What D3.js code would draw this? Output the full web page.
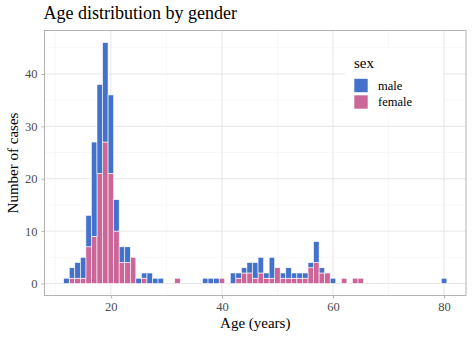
<!DOCTYPE html>
<html><head><meta charset="utf-8">
<script src="https://cdn.jsdelivr.net/npm/d3@7"></script>
<style>body{margin:0;background:#fff}svg{display:block}</style>
</head><body>
<svg id="c" width="474" height="338"></svg>
<script>
const ages   = [12,13,14,15,16,17,18,19,20,21,22,23,24,25,26,27,28,29,32,37,38,39,40,42,43,44,45,46,47,48,49,50,51,52,53,54,55,56,57,58,59,60,62,64,65,80];
const male   = [1, 2, 3, 4, 6, 18,17,19,15,6, 3, 3, 0, 1, 1, 2, 1, 1, 0, 1, 1, 1, 0, 2, 1, 1, 2, 3, 3, 1, 4, 0, 1, 2, 1, 1, 1, 1, 4, 1, 0, 1, 0, 0, 0, 1];
const female = [0, 1, 1, 1, 7, 9, 21,27,21,10,4, 4, 5, 0, 1, 0, 0, 0, 1, 0, 0, 0, 1, 0, 1, 2, 2, 1, 2, 1, 1, 3, 1, 1, 1, 1, 1, 3, 4, 2, 2, 0, 1, 1, 1, 0];
const sexes = ["male","female"];
const colors = ["#4472CA","#CC6699"];
const xTicks = [20,40,60,80];
const yTicks = [0,10,20,30,40];

const svg = d3.select("#c");
const L=44.5, R=466, T=30.5, B=295.5;
const x = d3.scaleLinear().domain([8.05,83.95]).range([L,R]);
const y = d3.scaleLinear().domain([-2.3,48.3]).range([B,T]);
const font = "'Liberation Serif', 'Times New Roman', serif";

// minor grid
const g = svg.append("g");
[10,30,50,70].forEach(v=>g.append("line").attr("x1",x(v)).attr("x2",x(v)).attr("y1",T).attr("y2",B).attr("stroke","#F0F0F0").attr("stroke-width",0.5));
[5,15,25,35,45].forEach(v=>g.append("line").attr("y1",y(v)).attr("y2",y(v)).attr("x1",L).attr("x2",R).attr("stroke","#F0F0F0").attr("stroke-width",0.5));
xTicks.forEach(v=>g.append("line").attr("x1",x(v)).attr("x2",x(v)).attr("y1",T).attr("y2",B).attr("stroke","#E6E6E6").attr("stroke-width",1));
yTicks.forEach(v=>g.append("line").attr("y1",y(v)).attr("y2",y(v)).attr("x1",L).attr("x2",R).attr("stroke","#E6E6E6").attr("stroke-width",1));

// bars
const data = ages.map((a,i)=>({age:a, female:female[i], male:male[i]}));
const stack = d3.stack().keys(["female","male"])(data);
const colorOf = {female:colors[1], male:colors[0]};
stack.forEach(layer=>{
  svg.append("g").selectAll("rect").data(layer.filter(d=>d[1]>d[0])).join("rect")
    .attr("x",d=>x(d.data.age-0.5)).attr("width",d=>x(d.data.age+0.5)-x(d.data.age-0.5))
    .attr("y",d=>y(d[1])).attr("height",d=>y(d[0])-y(d[1]))
    .attr("fill",colorOf[layer.key]).attr("stroke","#fff").attr("stroke-width",0.6);
});

// border
svg.append("rect").attr("x",L).attr("y",T).attr("width",R-L).attr("height",B-T).attr("fill","none").attr("stroke","#B3B3B3").attr("stroke-width",1);

// axes
const xa = svg.append("g").attr("transform",`translate(0,${B})`).call(d3.axisBottom(x).tickValues(xTicks).tickSize(3).tickPadding(4));
const ya = svg.append("g").attr("transform",`translate(${L},0)`).call(d3.axisLeft(y).tickValues(yTicks).tickSize(3).tickPadding(4));
[xa,ya].forEach(a=>{a.select(".domain").remove();a.selectAll("line").attr("stroke","#B3B3B3");a.selectAll("text").attr("fill","#4D4D4D").style("font-family",font).style("font-size","12.5px");});

// titles
svg.append("text").attr("x",L-1).attr("y",19).text("Age distribution by gender").style("font-family",font).style("font-size","18px").attr("fill","#000");
svg.append("text").attr("x",(L+R)/2).attr("y",328).attr("text-anchor","middle").text("Age (years)").style("font-family",font).style("font-size","15px");
svg.append("text").attr("transform",`translate(18,${(T+B)/2}) rotate(-90)`).attr("text-anchor","middle").text("Number of cases").style("font-family",font).style("font-size","15px");

// legend
const lg = svg.append("g").attr("transform","translate(345,48)");
lg.append("rect").attr("width",98).attr("height",67).attr("fill","#fff");
lg.append("text").attr("x",9).attr("y",20).text("sex").style("font-family",font).style("font-size","15px");
sexes.forEach((s,i)=>{
  lg.append("rect").attr("x",9).attr("y",30.5+i*16.5).attr("width",14).attr("height",14).attr("fill",colors[i]).attr("stroke","#fff").attr("stroke-width",0.6);
  lg.append("text").attr("x",33).attr("y",41.5+i*16.5).text(s).style("font-family",font).style("font-size","12.5px");
});
</script>
</body></html>
